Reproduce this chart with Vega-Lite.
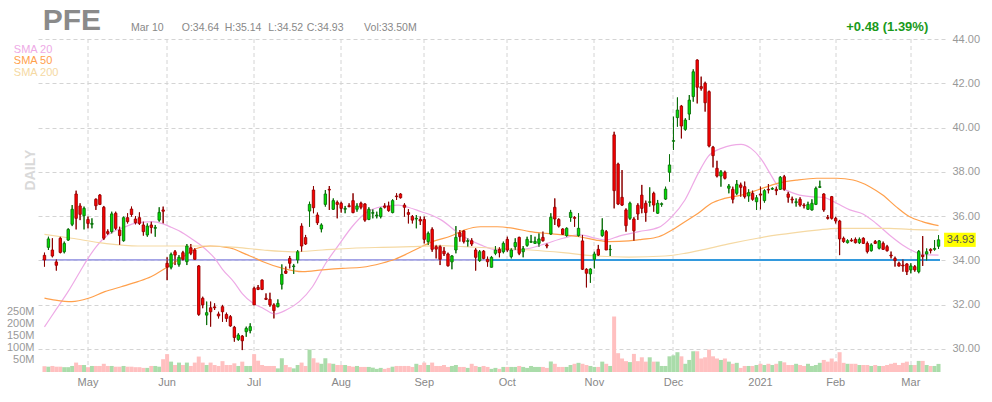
{
"$schema": "https://vega.github.io/schema/vega-lite/v6.json",
"width": 908, "height": 333,
"autosize": {"type": "none"},
"padding": {"left": 37, "top": 39, "right": 47, "bottom": 30},
"background": "white",
"config": {"font": "Liberation Sans", "view": {"stroke": null}},
"datasets": {
"ohlc": [
{"i":0,"o":34.23,"h":34.35,"l":33.72,"c":34.02,"v":24},
{"i":1,"o":34.59,"h":35.07,"l":34.47,"c":34.97,"v":22},
{"i":2,"o":34.47,"h":35.0,"l":34.14,"c":34.2,"v":25},
{"i":3,"o":33.93,"h":34.05,"l":33.54,"c":33.78,"v":22},
{"i":4,"o":35.0,"h":35.07,"l":34.32,"c":34.36,"v":22},
{"i":5,"o":34.39,"h":34.85,"l":34.32,"c":34.77,"v":20},
{"i":6,"o":34.92,"h":35.45,"l":34.88,"c":35.4,"v":20},
{"i":7,"o":35.63,"h":36.5,"l":35.55,"c":36.31,"v":25},
{"i":8,"o":37.0,"h":37.15,"l":35.4,"c":35.9,"v":39},
{"i":9,"o":36.46,"h":36.58,"l":35.82,"c":36.08,"v":29},
{"i":10,"o":36.02,"h":36.43,"l":35.4,"c":36.35,"v":29},
{"i":11,"o":35.85,"h":35.98,"l":35.45,"c":35.67,"v":20},
{"i":12,"o":35.63,"h":35.9,"l":35.45,"c":35.67,"v":25},
{"i":13,"o":36.76,"h":36.8,"l":36.28,"c":36.47,"v":25},
{"i":14,"o":36.95,"h":37.0,"l":36.5,"c":36.53,"v":25},
{"i":15,"o":36.4,"h":36.46,"l":34.92,"c":35.0,"v":34},
{"i":16,"o":35.3,"h":35.4,"l":35.15,"c":35.22,"v":25},
{"i":17,"o":35.3,"h":36.2,"l":35.22,"c":36.1,"v":25},
{"i":18,"o":36.13,"h":36.2,"l":35.37,"c":35.45,"v":22},
{"i":19,"o":35.37,"h":35.52,"l":34.7,"c":35.12,"v":22},
{"i":20,"o":34.89,"h":35.98,"l":34.85,"c":35.93,"v":25},
{"i":21,"o":35.93,"h":36.13,"l":35.67,"c":35.75,"v":22},
{"i":22,"o":36.32,"h":36.43,"l":35.98,"c":36.07,"v":22},
{"i":23,"o":35.87,"h":36.0,"l":35.63,"c":35.7,"v":20},
{"i":24,"o":35.93,"h":36.17,"l":35.6,"c":35.67,"v":20},
{"i":25,"o":35.6,"h":35.75,"l":35.12,"c":35.3,"v":17},
{"i":26,"o":35.15,"h":35.67,"l":35.07,"c":35.55,"v":17},
{"i":27,"o":35.6,"h":35.75,"l":35.22,"c":35.49,"v":25},
{"i":28,"o":35.45,"h":35.6,"l":35.07,"c":35.49,"v":25},
{"i":29,"o":35.82,"h":36.4,"l":35.75,"c":36.17,"v":22},
{"i":30,"o":36.28,"h":36.43,"l":35.67,"c":36.22,"v":53},
{"i":31,"o":33.87,"h":34.14,"l":33.11,"c":33.69,"v":74},
{"i":32,"o":33.69,"h":34.35,"l":33.6,"c":34.27,"v":43},
{"i":33,"o":34.39,"h":34.47,"l":33.79,"c":34.24,"v":29},
{"i":34,"o":33.82,"h":34.24,"l":33.72,"c":34.14,"v":39},
{"i":35,"o":34.35,"h":34.43,"l":33.99,"c":34.05,"v":29},
{"i":36,"o":33.94,"h":34.74,"l":33.79,"c":34.65,"v":39},
{"i":37,"o":34.57,"h":34.74,"l":34.24,"c":34.32,"v":25},
{"i":38,"o":34.47,"h":34.55,"l":34.02,"c":34.05,"v":39},
{"i":39,"o":33.75,"h":33.79,"l":31.5,"c":31.56,"v":64},
{"i":40,"o":32.29,"h":32.36,"l":31.84,"c":31.99,"v":39},
{"i":41,"o":31.53,"h":32.14,"l":31.08,"c":31.64,"v":29},
{"i":42,"o":31.86,"h":32.14,"l":31.01,"c":31.68,"v":39},
{"i":43,"o":31.9,"h":32.06,"l":31.76,"c":31.86,"v":29},
{"i":44,"o":31.58,"h":31.68,"l":31.38,"c":31.49,"v":25},
{"i":45,"o":31.91,"h":31.99,"l":31.23,"c":31.68,"v":45},
{"i":46,"o":31.56,"h":31.64,"l":31.23,"c":31.38,"v":29},
{"i":47,"o":31.46,"h":31.53,"l":31.01,"c":31.04,"v":29},
{"i":48,"o":30.98,"h":31.04,"l":30.33,"c":30.52,"v":36},
{"i":49,"o":30.43,"h":30.71,"l":30.37,"c":30.63,"v":25},
{"i":50,"o":30.58,"h":30.63,"l":29.95,"c":30.37,"v":43},
{"i":51,"o":30.78,"h":31.01,"l":30.55,"c":30.93,"v":25},
{"i":52,"o":30.83,"h":31.16,"l":30.71,"c":31.01,"v":25},
{"i":53,"o":32.74,"h":32.81,"l":31.99,"c":31.99,"v":74},
{"i":54,"o":32.78,"h":32.89,"l":32.66,"c":32.69,"v":47},
{"i":55,"o":33.11,"h":33.14,"l":32.66,"c":32.69,"v":29},
{"i":56,"o":32.29,"h":32.51,"l":32.21,"c":32.24,"v":25},
{"i":57,"o":32.24,"h":32.54,"l":31.91,"c":31.99,"v":25},
{"i":58,"o":31.99,"h":32.06,"l":31.38,"c":31.73,"v":25},
{"i":59,"o":31.91,"h":32.24,"l":31.88,"c":32.06,"v":15},
{"i":60,"o":32.92,"h":33.82,"l":32.69,"c":33.37,"v":57},
{"i":61,"o":33.52,"h":33.72,"l":33.39,"c":33.42,"v":29},
{"i":62,"o":34.09,"h":34.2,"l":33.64,"c":33.87,"v":20},
{"i":63,"o":33.72,"h":33.84,"l":33.39,"c":33.75,"v":15},
{"i":64,"o":34.02,"h":34.47,"l":33.87,"c":34.39,"v":29},
{"i":65,"o":35.55,"h":35.67,"l":34.39,"c":34.65,"v":39},
{"i":66,"o":35.03,"h":35.15,"l":34.7,"c":34.74,"v":25},
{"i":67,"o":36.23,"h":36.65,"l":35.52,"c":36.53,"v":93},
{"i":68,"o":37.18,"h":37.36,"l":36.13,"c":36.38,"v":57},
{"i":69,"o":36.05,"h":36.16,"l":35.6,"c":35.7,"v":39},
{"i":70,"o":35.42,"h":35.67,"l":35.27,"c":35.6,"v":34},
{"i":71,"o":36.53,"h":37.18,"l":36.43,"c":37.0,"v":57},
{"i":72,"o":37.21,"h":37.36,"l":36.28,"c":37.18,"v":36},
{"i":73,"o":36.31,"h":36.8,"l":36.28,"c":36.7,"v":34},
{"i":74,"o":36.62,"h":36.7,"l":35.9,"c":36.53,"v":29},
{"i":75,"o":36.58,"h":36.65,"l":36.16,"c":36.35,"v":29},
{"i":76,"o":36.31,"h":36.46,"l":36.13,"c":36.35,"v":29},
{"i":77,"o":36.47,"h":36.58,"l":36.4,"c":36.43,"v":25},
{"i":78,"o":36.7,"h":37.03,"l":36.13,"c":36.16,"v":22},
{"i":79,"o":36.31,"h":36.58,"l":36.2,"c":36.46,"v":25},
{"i":80,"o":36.58,"h":36.65,"l":36.31,"c":36.4,"v":21},
{"i":81,"o":36.55,"h":36.58,"l":35.75,"c":35.82,"v":21},
{"i":82,"o":35.85,"h":36.4,"l":35.82,"c":36.31,"v":21},
{"i":83,"o":36.13,"h":36.31,"l":35.9,"c":36.16,"v":18},
{"i":84,"o":36.01,"h":36.2,"l":35.9,"c":36.05,"v":13},
{"i":85,"o":35.98,"h":36.4,"l":35.9,"c":36.35,"v":17},
{"i":86,"o":36.46,"h":36.58,"l":36.35,"c":36.4,"v":13},
{"i":87,"o":36.46,"h":36.65,"l":36.2,"c":36.25,"v":17},
{"i":88,"o":36.16,"h":36.76,"l":36.13,"c":36.7,"v":22},
{"i":89,"o":36.91,"h":37.03,"l":36.73,"c":36.88,"v":25},
{"i":90,"o":37.0,"h":37.03,"l":36.8,"c":36.83,"v":25},
{"i":91,"o":36.5,"h":36.58,"l":35.98,"c":36.4,"v":25},
{"i":92,"o":36.16,"h":36.31,"l":35.67,"c":36.08,"v":25},
{"i":93,"o":35.98,"h":36.05,"l":35.67,"c":35.82,"v":21},
{"i":94,"o":35.87,"h":36.05,"l":35.45,"c":35.9,"v":34},
{"i":95,"o":35.85,"h":35.98,"l":35.6,"c":35.78,"v":29},
{"i":96,"o":35.85,"h":35.98,"l":34.77,"c":34.95,"v":39},
{"i":97,"o":34.85,"h":35.3,"l":34.7,"c":35.22,"v":29},
{"i":98,"o":35.4,"h":35.49,"l":34.39,"c":34.5,"v":39},
{"i":99,"o":34.62,"h":34.7,"l":34.09,"c":34.51,"v":25},
{"i":100,"o":34.62,"h":34.7,"l":33.79,"c":34.05,"v":25},
{"i":101,"o":34.42,"h":34.6,"l":34.2,"c":34.3,"v":29},
{"i":102,"o":34.29,"h":34.35,"l":33.72,"c":33.76,"v":21},
{"i":103,"o":33.93,"h":34.24,"l":33.6,"c":34.2,"v":25},
{"i":104,"o":34.47,"h":35.55,"l":34.32,"c":35.04,"v":29},
{"i":105,"o":35.25,"h":35.37,"l":34.85,"c":35.07,"v":21},
{"i":106,"o":35.33,"h":35.37,"l":34.77,"c":34.85,"v":21},
{"i":107,"o":34.86,"h":35.0,"l":34.62,"c":34.89,"v":17},
{"i":108,"o":34.89,"h":35.0,"l":34.65,"c":34.74,"v":34},
{"i":109,"o":34.47,"h":34.55,"l":33.54,"c":34.14,"v":25},
{"i":110,"o":33.99,"h":34.47,"l":33.94,"c":34.39,"v":21},
{"i":111,"o":34.42,"h":34.47,"l":34.05,"c":34.09,"v":25},
{"i":112,"o":34.05,"h":34.17,"l":33.72,"c":33.94,"v":21},
{"i":113,"o":33.69,"h":34.2,"l":33.69,"c":34.14,"v":13},
{"i":114,"o":34.32,"h":34.65,"l":34.24,"c":34.47,"v":17},
{"i":115,"o":34.5,"h":34.59,"l":34.14,"c":34.35,"v":13},
{"i":116,"o":34.39,"h":34.85,"l":34.32,"c":34.77,"v":21},
{"i":117,"o":34.95,"h":35.07,"l":34.39,"c":34.47,"v":21},
{"i":118,"o":34.17,"h":34.55,"l":34.09,"c":34.47,"v":21},
{"i":119,"o":34.62,"h":35.0,"l":34.47,"c":34.81,"v":21},
{"i":120,"o":35.04,"h":35.07,"l":34.24,"c":34.32,"v":25},
{"i":121,"o":34.39,"h":34.65,"l":34.14,"c":34.53,"v":21},
{"i":122,"o":34.68,"h":35.07,"l":34.62,"c":34.95,"v":17},
{"i":123,"o":34.82,"h":35.15,"l":34.8,"c":34.85,"v":25},
{"i":124,"o":34.77,"h":35.07,"l":34.74,"c":34.86,"v":21},
{"i":125,"o":34.77,"h":35.22,"l":34.62,"c":34.97,"v":21},
{"i":126,"o":35.04,"h":35.3,"l":34.85,"c":34.89,"v":21},
{"i":127,"o":34.7,"h":34.77,"l":34.55,"c":34.65,"v":17},
{"i":128,"o":35.19,"h":36.13,"l":35.15,"c":35.95,"v":43},
{"i":129,"o":36.4,"h":36.8,"l":35.6,"c":35.87,"v":34},
{"i":130,"o":35.85,"h":35.9,"l":35.49,"c":35.55,"v":21},
{"i":131,"o":35.42,"h":35.45,"l":35.15,"c":35.18,"v":21},
{"i":132,"o":35.12,"h":35.49,"l":35.07,"c":35.45,"v":21},
{"i":133,"o":35.94,"h":36.28,"l":35.75,"c":36.17,"v":29},
{"i":134,"o":35.94,"h":36.0,"l":35.52,"c":35.9,"v":34},
{"i":135,"o":35.12,"h":36.13,"l":35.07,"c":35.45,"v":38},
{"i":136,"o":34.88,"h":35.15,"l":33.57,"c":33.6,"v":34},
{"i":137,"o":33.6,"h":33.64,"l":32.78,"c":33.42,"v":29},
{"i":138,"o":33.39,"h":33.64,"l":32.99,"c":33.61,"v":25},
{"i":139,"o":34.05,"h":34.39,"l":33.64,"c":34.29,"v":21},
{"i":140,"o":34.5,"h":34.7,"l":34.2,"c":34.24,"v":21},
{"i":141,"o":35.12,"h":35.9,"l":35.07,"c":35.37,"v":43},
{"i":142,"o":35.3,"h":35.37,"l":34.47,"c":34.47,"v":34},
{"i":143,"o":34.49,"h":34.7,"l":34.2,"c":34.5,"v":25},
{"i":144,"o":39.67,"h":39.81,"l":36.35,"c":37.15,"v":230},
{"i":145,"o":38.35,"h":38.41,"l":36.5,"c":36.55,"v":78},
{"i":146,"o":36.85,"h":38.08,"l":36.46,"c":36.5,"v":56},
{"i":147,"o":36.28,"h":36.35,"l":35.3,"c":35.57,"v":45},
{"i":148,"o":35.9,"h":36.65,"l":35.83,"c":36.58,"v":41},
{"i":149,"o":35.87,"h":35.95,"l":34.88,"c":35.34,"v":75},
{"i":150,"o":36.49,"h":36.58,"l":35.83,"c":36.1,"v":45},
{"i":151,"o":36.95,"h":37.41,"l":36.13,"c":36.35,"v":61},
{"i":152,"o":36.58,"h":36.7,"l":35.75,"c":36.16,"v":43},
{"i":153,"o":36.62,"h":37.3,"l":36.43,"c":36.65,"v":61},
{"i":154,"o":37.03,"h":37.1,"l":36.2,"c":36.5,"v":43},
{"i":155,"o":36.13,"h":36.73,"l":36.1,"c":36.58,"v":43},
{"i":156,"o":36.53,"h":36.61,"l":36.43,"c":36.56,"v":25},
{"i":157,"o":36.77,"h":37.33,"l":36.73,"c":37.22,"v":25},
{"i":158,"o":37.98,"h":38.79,"l":37.56,"c":38.31,"v":65},
{"i":159,"o":39.38,"h":40.49,"l":38.99,"c":39.41,"v":69},
{"i":160,"o":40.45,"h":41.36,"l":40.04,"c":40.79,"v":82},
{"i":161,"o":40.97,"h":41.02,"l":39.51,"c":40.07,"v":65},
{"i":162,"o":39.92,"h":40.42,"l":39.86,"c":40.34,"v":34},
{"i":163,"o":40.61,"h":41.47,"l":40.34,"c":41.24,"v":50},
{"i":164,"o":41.4,"h":42.63,"l":41.17,"c":42.52,"v":86},
{"i":165,"o":43.05,"h":43.08,"l":41.09,"c":41.82,"v":86},
{"i":166,"o":41.85,"h":42.3,"l":41.67,"c":41.77,"v":56},
{"i":167,"o":42.0,"h":42.07,"l":40.72,"c":41.12,"v":61},
{"i":168,"o":41.62,"h":41.67,"l":39.11,"c":39.17,"v":93},
{"i":169,"o":39.11,"h":39.17,"l":38.2,"c":38.73,"v":65},
{"i":170,"o":38.16,"h":38.5,"l":37.75,"c":37.81,"v":56},
{"i":171,"o":37.81,"h":38.08,"l":37.33,"c":38.0,"v":50},
{"i":172,"o":37.98,"h":38.05,"l":37.66,"c":37.71,"v":56},
{"i":173,"o":37.26,"h":37.45,"l":37.03,"c":37.36,"v":43},
{"i":174,"o":37.21,"h":37.33,"l":36.58,"c":36.76,"v":34},
{"i":175,"o":37.03,"h":37.63,"l":36.95,"c":37.44,"v":38},
{"i":176,"o":37.41,"h":37.51,"l":36.88,"c":37.3,"v":17},
{"i":177,"o":37.33,"h":37.56,"l":36.8,"c":36.88,"v":25},
{"i":178,"o":36.91,"h":37.21,"l":36.65,"c":37.06,"v":25},
{"i":179,"o":37.03,"h":37.15,"l":36.7,"c":36.76,"v":25},
{"i":180,"o":36.65,"h":36.95,"l":36.28,"c":36.83,"v":29},
{"i":181,"o":37.0,"h":37.33,"l":36.31,"c":36.95,"v":34},
{"i":182,"o":36.7,"h":37.21,"l":36.61,"c":37.15,"v":29},
{"i":183,"o":37.21,"h":37.45,"l":37.03,"c":37.18,"v":34},
{"i":184,"o":37.22,"h":37.3,"l":37.18,"c":37.25,"v":29},
{"i":185,"o":37.21,"h":37.33,"l":36.95,"c":37.15,"v":34},
{"i":186,"o":37.21,"h":37.81,"l":37.18,"c":37.75,"v":45},
{"i":187,"o":37.78,"h":37.86,"l":37.15,"c":37.21,"v":40},
{"i":188,"o":37.0,"h":37.1,"l":36.61,"c":36.85,"v":29},
{"i":189,"o":36.77,"h":36.88,"l":36.58,"c":36.73,"v":29},
{"i":190,"o":36.61,"h":36.8,"l":36.43,"c":36.65,"v":34},
{"i":191,"o":36.76,"h":36.85,"l":36.43,"c":36.5,"v":29},
{"i":192,"o":36.5,"h":36.58,"l":36.35,"c":36.47,"v":25},
{"i":193,"o":36.31,"h":36.65,"l":36.28,"c":36.53,"v":34},
{"i":194,"o":36.28,"h":36.76,"l":36.25,"c":36.58,"v":25},
{"i":195,"o":36.53,"h":37.33,"l":36.5,"c":37.25,"v":29},
{"i":196,"o":37.3,"h":37.6,"l":37.27,"c":37.33,"v":38},
{"i":197,"o":37.0,"h":37.03,"l":36.2,"c":36.28,"v":50},
{"i":198,"o":35.94,"h":36.05,"l":35.85,"c":35.9,"v":43},
{"i":199,"o":36.88,"h":36.91,"l":35.85,"c":35.9,"v":56},
{"i":200,"o":35.9,"h":35.97,"l":35.67,"c":35.78,"v":43},
{"i":201,"o":35.78,"h":35.83,"l":34.24,"c":34.97,"v":82},
{"i":202,"o":35.0,"h":35.07,"l":34.8,"c":34.85,"v":38},
{"i":203,"o":34.8,"h":34.95,"l":34.77,"c":34.89,"v":34},
{"i":204,"o":34.92,"h":35.0,"l":34.85,"c":34.88,"v":34},
{"i":205,"o":34.95,"h":35.03,"l":34.77,"c":34.8,"v":34},
{"i":206,"o":34.8,"h":35.03,"l":34.74,"c":34.95,"v":29},
{"i":207,"o":35.0,"h":35.04,"l":34.74,"c":34.77,"v":29},
{"i":208,"o":34.77,"h":34.85,"l":34.32,"c":34.4,"v":29},
{"i":209,"o":34.44,"h":34.77,"l":34.4,"c":34.7,"v":25},
{"i":210,"o":34.85,"h":34.92,"l":34.74,"c":34.77,"v":29},
{"i":211,"o":34.55,"h":34.92,"l":34.5,"c":34.88,"v":25},
{"i":212,"o":34.77,"h":34.85,"l":34.47,"c":34.5,"v":25},
{"i":213,"o":34.62,"h":34.7,"l":34.4,"c":34.44,"v":29},
{"i":214,"o":34.24,"h":34.4,"l":34.09,"c":34.2,"v":34},
{"i":215,"o":34.09,"h":34.17,"l":33.72,"c":33.99,"v":38},
{"i":216,"o":33.87,"h":33.94,"l":33.72,"c":33.75,"v":29},
{"i":217,"o":33.79,"h":34.05,"l":33.49,"c":33.75,"v":38},
{"i":218,"o":33.84,"h":33.87,"l":33.34,"c":33.49,"v":43},
{"i":219,"o":33.57,"h":33.87,"l":33.42,"c":33.75,"v":29},
{"i":220,"o":33.72,"h":33.79,"l":33.49,"c":33.57,"v":29},
{"i":221,"o":33.49,"h":34.47,"l":33.42,"c":34.4,"v":46},
{"i":222,"o":34.24,"h":35.1,"l":33.75,"c":34.17,"v":46},
{"i":223,"o":34.29,"h":34.54,"l":33.99,"c":34.39,"v":29},
{"i":224,"o":34.5,"h":34.54,"l":34.32,"c":34.44,"v":25},
{"i":225,"o":34.5,"h":34.92,"l":34.44,"c":34.54,"v":25},
{"i":226,"o":34.64,"h":35.14,"l":34.52,"c":34.93,"v":33.5}
],
"sma": [
{"s":"SMA 20","i":0,"val":31.0},{"s":"SMA 20","i":3,"val":31.8},{"s":"SMA 20","i":6,"val":32.6},{"s":"SMA 20","i":9,"val":33.5},{"s":"SMA 20","i":11,"val":34.09},{"s":"SMA 20","i":13,"val":34.6},{"s":"SMA 20","i":15,"val":35.0},{"s":"SMA 20","i":18,"val":35.35},{"s":"SMA 20","i":20,"val":35.49},{"s":"SMA 20","i":23,"val":35.68},{"s":"SMA 20","i":27,"val":35.75},{"s":"SMA 20","i":30,"val":35.65},{"s":"SMA 20","i":32,"val":35.5},{"s":"SMA 20","i":34.4,"val":35.3},{"s":"SMA 20","i":37,"val":35.0},{"s":"SMA 20","i":40,"val":34.62},{"s":"SMA 20","i":43,"val":34.1},{"s":"SMA 20","i":45,"val":33.6},{"s":"SMA 20","i":48,"val":33.0},{"s":"SMA 20","i":50,"val":32.5},{"s":"SMA 20","i":52.75,"val":32.06},{"s":"SMA 20","i":55.25,"val":31.84},{"s":"SMA 20","i":58.2,"val":31.58},{"s":"SMA 20","i":61.1,"val":31.76},{"s":"SMA 20","i":64.4,"val":32.14},{"s":"SMA 20","i":67.75,"val":32.81},{"s":"SMA 20","i":71.1,"val":33.87},{"s":"SMA 20","i":74.4,"val":34.7},{"s":"SMA 20","i":77.75,"val":35.52},{"s":"SMA 20","i":81.1,"val":36.13},{"s":"SMA 20","i":85.25,"val":36.43},{"s":"SMA 20","i":89.4,"val":36.5},{"s":"SMA 20","i":91.9,"val":36.4},{"s":"SMA 20","i":95.25,"val":36.2},{"s":"SMA 20","i":97.75,"val":36.05},{"s":"SMA 20","i":100.25,"val":35.83},{"s":"SMA 20","i":105.25,"val":35.15},{"s":"SMA 20","i":110.25,"val":34.7},{"s":"SMA 20","i":114.4,"val":34.47},{"s":"SMA 20","i":118.6,"val":34.47},{"s":"SMA 20","i":122.75,"val":34.55},{"s":"SMA 20","i":126.9,"val":34.77},{"s":"SMA 20","i":131.1,"val":35.0},{"s":"SMA 20","i":135.25,"val":35.15},{"s":"SMA 20","i":139.4,"val":35.0},{"s":"SMA 20","i":141.9,"val":34.92},{"s":"SMA 20","i":145.25,"val":35.1},{"s":"SMA 20","i":150.25,"val":35.3},{"s":"SMA 20","i":155.25,"val":35.49},{"s":"SMA 20","i":158.6,"val":35.98},{"s":"SMA 20","i":161.9,"val":36.73},{"s":"SMA 20","i":165.25,"val":37.93},{"s":"SMA 20","i":167.75,"val":38.69},{"s":"SMA 20","i":171.1,"val":39.06},{"s":"SMA 20","i":176.1,"val":39.24},{"s":"SMA 20","i":178.6,"val":39.06},{"s":"SMA 20","i":181.1,"val":38.6},{"s":"SMA 20","i":183.5,"val":37.9},{"s":"SMA 20","i":185.25,"val":37.4},{"s":"SMA 20","i":187.75,"val":37.15},{"s":"SMA 20","i":190.25,"val":36.98},{"s":"SMA 20","i":193.6,"val":36.88},{"s":"SMA 20","i":196.9,"val":36.85},{"s":"SMA 20","i":200.25,"val":36.58},{"s":"SMA 20","i":203.6,"val":36.28},{"s":"SMA 20","i":206.9,"val":36.1},{"s":"SMA 20","i":210.25,"val":35.67},{"s":"SMA 20","i":213.6,"val":35.15},{"s":"SMA 20","i":216.9,"val":34.7},{"s":"SMA 20","i":219.4,"val":34.44},{"s":"SMA 20","i":221.9,"val":34.27},{"s":"SMA 20","i":226,"val":34.24},
{"s":"SMA 50","i":0,"val":32.3},{"s":"SMA 50","i":2.75,"val":32.21},{"s":"SMA 50","i":6.9,"val":32.14},{"s":"SMA 50","i":11.1,"val":32.29},{"s":"SMA 50","i":15.25,"val":32.59},{"s":"SMA 50","i":19.4,"val":32.81},{"s":"SMA 50","i":23.6,"val":33.04},{"s":"SMA 50","i":26.9,"val":33.26},{"s":"SMA 50","i":30.25,"val":33.61},{"s":"SMA 50","i":34.4,"val":34.09},{"s":"SMA 50","i":38.6,"val":34.55},{"s":"SMA 50","i":41.9,"val":34.65},{"s":"SMA 50","i":46.9,"val":34.57},{"s":"SMA 50","i":50.25,"val":34.33},{"s":"SMA 50","i":52.75,"val":34.14},{"s":"SMA 50","i":55.25,"val":33.94},{"s":"SMA 50","i":60.25,"val":33.64},{"s":"SMA 50","i":65.25,"val":33.49},{"s":"SMA 50","i":70.25,"val":33.57},{"s":"SMA 50","i":75.25,"val":33.64},{"s":"SMA 50","i":80.25,"val":33.69},{"s":"SMA 50","i":85.25,"val":33.87},{"s":"SMA 50","i":88.6,"val":34.05},{"s":"SMA 50","i":91.9,"val":34.32},{"s":"SMA 50","i":95.25,"val":34.62},{"s":"SMA 50","i":98.6,"val":34.88},{"s":"SMA 50","i":102.75,"val":35.1},{"s":"SMA 50","i":106.1,"val":35.37},{"s":"SMA 50","i":110.25,"val":35.52},{"s":"SMA 50","i":114.4,"val":35.52},{"s":"SMA 50","i":118.6,"val":35.45},{"s":"SMA 50","i":122.75,"val":35.3},{"s":"SMA 50","i":126.9,"val":35.22},{"s":"SMA 50","i":131.1,"val":35.15},{"s":"SMA 50","i":135.25,"val":35.07},{"s":"SMA 50","i":139.4,"val":34.92},{"s":"SMA 50","i":142.75,"val":34.85},{"s":"SMA 50","i":147.75,"val":34.88},{"s":"SMA 50","i":151,"val":34.95},{"s":"SMA 50","i":155.25,"val":35.07},{"s":"SMA 50","i":158.6,"val":35.37},{"s":"SMA 50","i":161.9,"val":35.75},{"s":"SMA 50","i":165.25,"val":36.13},{"s":"SMA 50","i":168.6,"val":36.58},{"s":"SMA 50","i":171.9,"val":36.8},{"s":"SMA 50","i":176.1,"val":36.95},{"s":"SMA 50","i":180.25,"val":37.18},{"s":"SMA 50","i":185.25,"val":37.48},{"s":"SMA 50","i":190.25,"val":37.63},{"s":"SMA 50","i":195.25,"val":37.71},{"s":"SMA 50","i":200.25,"val":37.71},{"s":"SMA 50","i":204.4,"val":37.63},{"s":"SMA 50","i":208.6,"val":37.33},{"s":"SMA 50","i":211.9,"val":36.95},{"s":"SMA 50","i":215.25,"val":36.43},{"s":"SMA 50","i":218.6,"val":35.98},{"s":"SMA 50","i":221.9,"val":35.75},{"s":"SMA 50","i":226,"val":35.57},
{"s":"SMA 200","i":0,"val":35.18},{"s":"SMA 200","i":6.9,"val":35.0},{"s":"SMA 200","i":15.25,"val":34.77},{"s":"SMA 200","i":23.6,"val":34.65},{"s":"SMA 200","i":31.9,"val":34.65},{"s":"SMA 200","i":40.25,"val":34.65},{"s":"SMA 200","i":48.6,"val":34.59},{"s":"SMA 200","i":55.25,"val":34.47},{"s":"SMA 200","i":62.75,"val":34.39},{"s":"SMA 200","i":70.25,"val":34.47},{"s":"SMA 200","i":77.75,"val":34.55},{"s":"SMA 200","i":85.25,"val":34.59},{"s":"SMA 200","i":92.75,"val":34.62},{"s":"SMA 200","i":100.25,"val":34.67},{"s":"SMA 200","i":106.1,"val":34.62},{"s":"SMA 200","i":114.4,"val":34.55},{"s":"SMA 200","i":122.75,"val":34.47},{"s":"SMA 200","i":131.1,"val":34.35},{"s":"SMA 200","i":139.4,"val":34.2},{"s":"SMA 200","i":147.75,"val":34.15},{"s":"SMA 200","i":156.9,"val":34.2},{"s":"SMA 200","i":161.9,"val":34.32},{"s":"SMA 200","i":166.9,"val":34.5},{"s":"SMA 200","i":173.6,"val":34.77},{"s":"SMA 200","i":180.25,"val":35.0},{"s":"SMA 200","i":185.25,"val":35.15},{"s":"SMA 200","i":190.25,"val":35.27},{"s":"SMA 200","i":195.25,"val":35.37},{"s":"SMA 200","i":200.25,"val":35.45},{"s":"SMA 200","i":206.9,"val":35.45},{"s":"SMA 200","i":213.6,"val":35.45},{"s":"SMA 200","i":218.6,"val":35.4},{"s":"SMA 200","i":226,"val":35.37}
]
},
"layer": [
{
"data": {"name": "ohlc"},
"mark": {"type": "bar", "size": 4, "orient": "vertical"},
"encoding": {
"x": {"field": "i", "type": "quantitative", "scale": {"domain": [-0.625, 226.375], "nice": false, "zero": false},
 "axis": {"values": [11,31,53,75,96,117,139,159,181,200,219], "labelExpr": "datum.value==11?'May':datum.value==31?'Jun':datum.value==53?'Jul':datum.value==75?'Aug':datum.value==96?'Sep':datum.value==117?'Oct':datum.value==139?'Nov':datum.value==159?'Dec':datum.value==181?'2021':datum.value==200?'Feb':'Mar'", "grid": true, "gridDash": [4,3], "gridColor": "#d4d4d4", "ticks": false, "domain": false, "labelPadding": 5, "labelFontSize": 11, "labelColor": "#888", "title": null, "translate": 0}},
"y": {"field": "v", "type": "quantitative", "scale": {"domain": [0, 1380], "nice": false},
 "axis": {"orient": "left", "values": [50,100,150,200,250], "labelExpr": "datum.value + 'M'", "grid": false, "ticks": false, "domain": false, "labelPadding": 3, "labelFontSize": 11, "labelColor": "#999", "title": null}},
"color": {"condition": {"test": "datum.c >= datum.o", "value": "#aadcaa"}, "value": "#ffc0c0"}
}
},
{
"layer": [
{
"data": {"name": "ohlc"},
"mark": {"type": "rule", "strokeWidth": 1},
"encoding": {
"x": {"field": "i", "type": "quantitative", "title": null},
"y": {"field": "l", "type": "quantitative", "scale": {"domain": [28.96, 44], "nice": false, "zero": false},
 "axis": {"orient": "right", "values": [30,32,34,36,38,40,42,44], "format": ".2f", "grid": true, "gridDash": [4,3], "gridColor": "#d4d4d4", "ticks": false, "domain": false, "labelPadding": 7, "labelFontSize": 11, "labelColor": "#999", "title": null}},
"y2": {"field": "h"},
"color": {"condition": {"test": "datum.c >= datum.o", "value": "#0a6e0a"}, "value": "#8b0000"}
}
},
{
"data": {"values": [{}]},
"mark": {"type": "rule", "strokeWidth": 1.8, "color": "#a3a3e6"},
"encoding": {"x": {"datum": -0.625}, "x2": {"datum": 113}, "y": {"datum": 34.02}}
},
{
"data": {"values": [{}]},
"mark": {"type": "rule", "strokeWidth": 2, "color": "#3399dd"},
"encoding": {"x": {"datum": 113}, "x2": {"datum": 226.375}, "y": {"datum": 34.02}}
},
{
"data": {"name": "sma"},
"mark": {"type": "line", "strokeWidth": 1.2, "interpolate": "monotone"},
"encoding": {
"x": {"field": "i", "type": "quantitative", "title": null},
"y": {"field": "val", "type": "quantitative", "title": null},
"color": {"field": "s", "type": "nominal", "scale": {"domain": ["SMA 20","SMA 50","SMA 200"], "range": ["#eeaae6","#ffa04c","#f5d9a3"]}, "legend": null}
}
},
{
"data": {"name": "ohlc"},
"mark": {"type": "rule", "strokeWidth": 1},
"encoding": {
"x": {"field": "i", "type": "quantitative", "title": null},
"y": {"field": "l", "type": "quantitative", "title": null},
"y2": {"field": "h"},
"color": {"condition": {"test": "datum.c >= datum.o", "value": "#0a6e0a"}, "value": "#8b0000"}
}
},
{
"data": {"name": "ohlc"},
"mark": {"type": "bar", "size": 2.4, "strokeWidth": 0.9, "orient": "vertical"},
"encoding": {
"x": {"field": "i", "type": "quantitative", "title": null},
"y": {"field": "o", "type": "quantitative", "title": null},
"y2": {"field": "c"},
"fill": {"condition": {"test": "datum.c >= datum.o", "value": "#00e000"}, "value": "#ff0000"},
"stroke": {"condition": {"test": "datum.c >= datum.o", "value": "#0a700a"}, "value": "#990000"}
}
},
{
"data": {"values": [{}]},
"mark": {"type": "text", "align": "left", "baseline": "alphabetic", "fontSize": 30, "fontWeight": "bold", "color": "#8a8a8a"},
"encoding": {"x": {"datum": -0.45}, "y": {"datum": 44.41}, "text": {"value": "PFE"}}
},
{
"data": {"values": [{}]},
"mark": {"type": "text", "align": "left", "baseline": "alphabetic", "fontSize": 10.5, "color": "#888"},
"encoding": {"x": {"datum": 21.875}, "y": {"datum": 44.375}, "text": {"value": "Mar 10"}}
},
{
"data": {"values": [{}]},
"mark": {"type": "text", "align": "left", "baseline": "alphabetic", "fontSize": 10.5, "color": "#888"},
"encoding": {"x": {"datum": 34.7}, "y": {"datum": 44.375}, "text": {"value": "O:34.64"}}
},
{
"data": {"values": [{}]},
"mark": {"type": "text", "align": "left", "baseline": "alphabetic", "fontSize": 10.5, "color": "#888"},
"encoding": {"x": {"datum": 45.55}, "y": {"datum": 44.375}, "text": {"value": "H:35.14"}}
},
{
"data": {"values": [{}]},
"mark": {"type": "text", "align": "left", "baseline": "alphabetic", "fontSize": 10.5, "color": "#888"},
"encoding": {"x": {"datum": 56.55}, "y": {"datum": 44.375}, "text": {"value": "L:34.52"}}
},
{
"data": {"values": [{}]},
"mark": {"type": "text", "align": "left", "baseline": "alphabetic", "fontSize": 10.5, "color": "#888"},
"encoding": {"x": {"datum": 66.3}, "y": {"datum": 44.375}, "text": {"value": "C:34.93"}}
},
{
"data": {"values": [{}]},
"mark": {"type": "text", "align": "left", "baseline": "alphabetic", "fontSize": 10.5, "color": "#888"},
"encoding": {"x": {"datum": 80.8}, "y": {"datum": 44.375}, "text": {"value": "Vol:33.50M"}}
},
{
"data": {"values": [{}]},
"mark": {"type": "text", "align": "right", "baseline": "alphabetic", "fontSize": 13, "fontWeight": "bold", "color": "#1a9a1a"},
"encoding": {"x": {"datum": 223.4}, "y": {"datum": 44.34}, "text": {"value": "+0.48 (1.39%)"}}
},
{
"data": {"values": [{}]},
"mark": {"type": "text", "align": "left", "baseline": "alphabetic", "fontSize": 11, "color": "#eeaae6"},
"encoding": {"x": {"datum": -7.75}, "y": {"datum": 43.39}, "text": {"value": "SMA 20"}}
},
{
"data": {"values": [{}]},
"mark": {"type": "text", "align": "left", "baseline": "alphabetic", "fontSize": 11, "color": "#ffa04c"},
"encoding": {"x": {"datum": -7.75}, "y": {"datum": 42.85}, "text": {"value": "SMA 50"}}
},
{
"data": {"values": [{}]},
"mark": {"type": "text", "align": "left", "baseline": "alphabetic", "fontSize": 11, "color": "#f5d9a3"},
"encoding": {"x": {"datum": -7.75}, "y": {"datum": 42.31}, "text": {"value": "SMA 200"}}
},
{
"data": {"values": [{}]},
"mark": {"type": "text", "align": "center", "baseline": "middle", "fontSize": 14, "fontWeight": "bold", "color": "#d9d9d9", "angle": 270},
"encoding": {"x": {"datum": -3.5}, "y": {"datum": 38.08}, "text": {"value": "DAILY"}}
},
{
"data": {"values": [{}]},
"mark": {"type": "rect", "color": "#ffff00"},
"encoding": {"x": {"datum": 227.4}, "x2": {"datum": 235.4}, "y": {"datum": 35.25}, "y2": {"datum": 34.61}}
},
{
"data": {"values": [{}]},
"mark": {"type": "text", "align": "left", "baseline": "middle", "fontSize": 11, "color": "#555"},
"encoding": {"x": {"datum": 228.1}, "y": {"datum": 34.93}, "text": {"value": "34.93"}}
}
]
}
],
"resolve": {"scale": {"y": "independent"}, "axis": {"y": "independent"}}
}
